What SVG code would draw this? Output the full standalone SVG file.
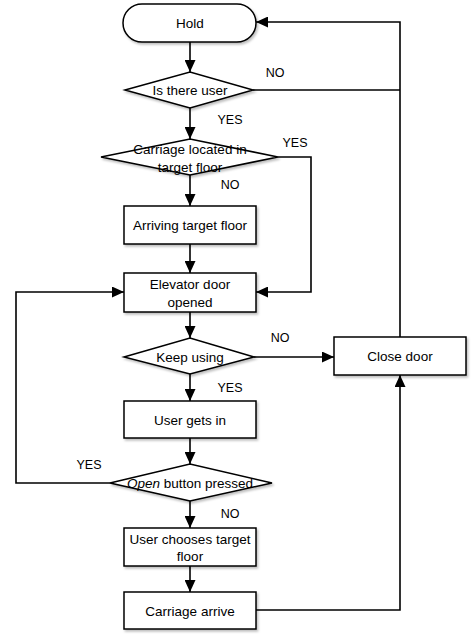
<svg xmlns="http://www.w3.org/2000/svg" width="474" height="640" viewBox="0 0 474 640">
<defs>
<marker id="ah" markerWidth="12" markerHeight="11" refX="12" refY="5.5" orient="auto" markerUnits="userSpaceOnUse">
<path d="M0,0 L12,5.5 L0,11 Z" fill="#000"/>
</marker>
<filter id="sh" x="-10%" y="-10%" width="130%" height="140%">
<feDropShadow dx="1.5" dy="2" stdDeviation="1" flood-color="#000" flood-opacity="0.25"/>
</filter>
</defs>
<style>
.n{fill:#fff;stroke:#000;stroke-width:1.5;filter:url(#sh)}
.t{font-family:"Liberation Sans",Arial,sans-serif;font-size:13.5px;fill:#000;text-anchor:middle}
.c{fill:none;stroke:#000;stroke-width:1.6}
.a{marker-end:url(#ah)}
.l{font-family:"Liberation Sans",Arial,sans-serif;font-size:12.5px;fill:#000;text-anchor:middle}
</style>
<rect width="474" height="640" fill="#fff"/>
<g id="connectors">
<line class="c a" x1="190" y1="42" x2="190" y2="72"/>
<line class="c a" x1="190" y1="108" x2="190" y2="139"/>
<line class="c a" x1="190" y1="175" x2="190" y2="206"/>
<line class="c a" x1="190" y1="244" x2="190" y2="273"/>
<line class="c a" x1="190" y1="312" x2="190" y2="338"/>
<line class="c a" x1="190" y1="374" x2="190" y2="401"/>
<line class="c a" x1="190" y1="438" x2="190" y2="464"/>
<line class="c a" x1="190" y1="501" x2="190" y2="528"/>
<line class="c a" x1="190" y1="566" x2="190" y2="592"/>
<polyline class="c" points="253,90 400,90"/>
<polyline class="c a" points="400,337 400,22 256,22"/>
<polyline class="c a" points="278,157 311,157 311,292 256,292"/>
<line class="c a" x1="254" y1="357" x2="334" y2="357"/>
<polyline class="c a" points="110,483 16,483 16,292 124,292"/>
<polyline class="c a" points="256,610 400,610 400,375"/>
<text class="l" x="275" y="77">NO</text>
<text class="l" x="230" y="124">YES</text>
<text class="l" x="295" y="147">YES</text>
<text class="l" x="230" y="189">NO</text>
<text class="l" x="280" y="342">NO</text>
<text class="l" x="230" y="392">YES</text>
<text class="l" x="89" y="469">YES</text>
<text class="l" x="230" y="518">NO</text>
</g>
<g id="hold">
<rect class="n" x="123" y="4" width="133" height="38" rx="19" ry="19"/>
<text class="t" x="190" y="28">Hold</text>
</g>
<g id="is-there-user">
<polygon class="n" points="125,90 190,72 253,90 190,108"/>
<text class="t" x="190" y="95">Is there user</text>
</g>
<g id="carriage-located">
<polygon class="n" points="101,157 190,139 278,157 190,175"/>
<text class="t" x="190" y="154">Carriage located in</text>
<text class="t" x="190" y="171.5">target floor</text>
</g>
<g id="arriving">
<rect class="n" x="124" y="206" width="132" height="38"/>
<text class="t" x="190" y="230">Arriving target floor</text>
</g>
<g id="door-opened">
<rect class="n" x="124" y="273" width="132" height="39"/>
<text class="t" x="190" y="289">Elevator door</text>
<text class="t" x="190" y="306.5">opened</text>
</g>
<g id="keep-using">
<polygon class="n" points="124,357 190,338 254,357 190,374"/>
<text class="t" x="190" y="361.5">Keep using</text>
</g>
<g id="close-door">
<rect class="n" x="334" y="337" width="132" height="38"/>
<text class="t" x="400" y="361">Close door</text>
</g>
<g id="user-gets-in">
<rect class="n" x="124" y="401" width="132" height="37"/>
<text class="t" x="190" y="424.5">User gets in</text>
</g>
<g id="open-button">
<polygon class="n" points="110,483 190,464 272,483 190,501"/>
<text class="t" x="190" y="487.5"><tspan font-style="italic">Open</tspan> button pressed</text>
</g>
<g id="user-chooses">
<rect class="n" x="124" y="528" width="132" height="38"/>
<text class="t" x="190" y="544">User chooses target</text>
<text class="t" x="190" y="561">floor</text>
</g>
<g id="carriage-arrive">
<rect class="n" x="124" y="592" width="132" height="37"/>
<text class="t" x="190" y="615.5">Carriage arrive</text>
</g>
</svg>
